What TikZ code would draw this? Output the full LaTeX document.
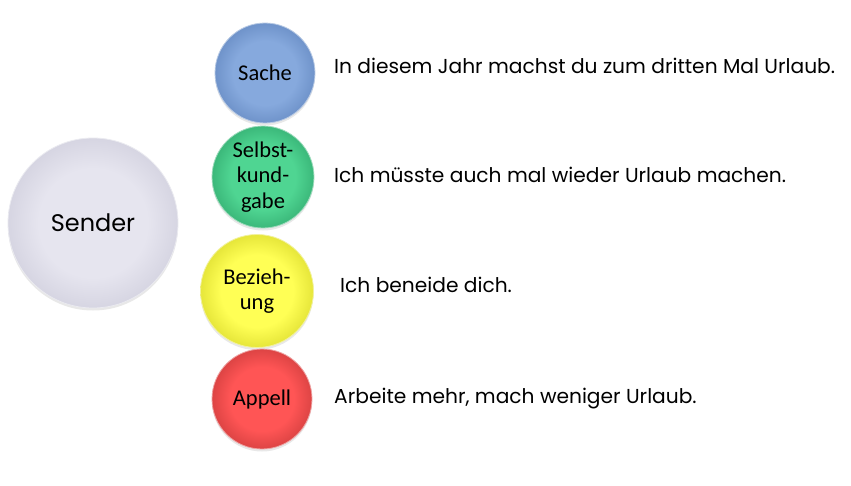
\documentclass[tikz,border=0pt]{standalone}
\usepackage{fontspec}
\setmainfont{Poppins}
\newfontfamily\calib{Carlito}
\usetikzlibrary{shadows}
\pgfdeclareradialshading[cin,cout]{rim}{\pgfpoint{0bp}{0bp}}{color(0bp)=(cin); color(16bp)=(cin); color(25bp)=(cout); color(50bp)=(cout)}
\definecolor{sachein}{HTML}{86A9DD}\definecolor{sacheout}{HTML}{6F93CA}
\definecolor{selbin}{HTML}{4FD592}\definecolor{selbout}{HTML}{3BB87A}
\definecolor{bezin}{HTML}{FFFF55}\definecolor{bezout}{HTML}{E6E63A}
\definecolor{appin}{HTML}{FF5555}\definecolor{appout}{HTML}{DD4444}
\definecolor{sendin}{HTML}{E6E5EF}\definecolor{sendout}{HTML}{D6D5E2}
\tikzset{
  ball/.style 2 args={circle, draw=#2!50!white, line width=0.8pt, shading=rim,
    /utils/exec={\colorlet{cin}{#1}\colorlet{cout}{#2}},
    drop shadow={opacity=0.18, shadow xshift=0pt, shadow yshift=-2.5pt},
    inner sep=0pt, align=center, font=\calib\fontsize{22.5}{25.5}\selectfont},
  msg/.style={anchor=base west, inner sep=0pt, font=\fontsize{20.2}{24}\selectfont},
}
\begin{document}
\begin{tikzpicture}[x=1pt,y=-1pt]
\path[use as bounding box, fill=white] (0,0) rectangle (851,485);
\node[ball={sendin}{sendout}, minimum size=170pt, font=\fontsize{24}{28}\selectfont] (sender) at (93,223) {Sender};
\node[ball={sachein}{sacheout}, minimum size=100pt] (sache) at (265,73) {Sache};
\node[ball={selbin}{selbout}, minimum size=102pt] (selbst) at (263,177) {Selbst-\\kund-\\gabe};
\node[ball={bezin}{bezout}, minimum size=113pt] (bez) at (257,291) {Bezieh-\\ung};
\node[ball={appin}{appout}, minimum size=100pt] (appell) at (262,399) {Appell};
\node[msg] (t1) at (334,73) {In diesem Jahr machst du zum dritten Mal Urlaub.};
\node[msg] (t2) at (334,182) {Ich müsste auch mal wieder Urlaub machen.};
\node[msg] (t3) at (340,292) {Ich beneide dich.};
\node[msg] (t4) at (334,403) {Arbeite mehr, mach weniger Urlaub.};
\end{tikzpicture}
\end{document}
